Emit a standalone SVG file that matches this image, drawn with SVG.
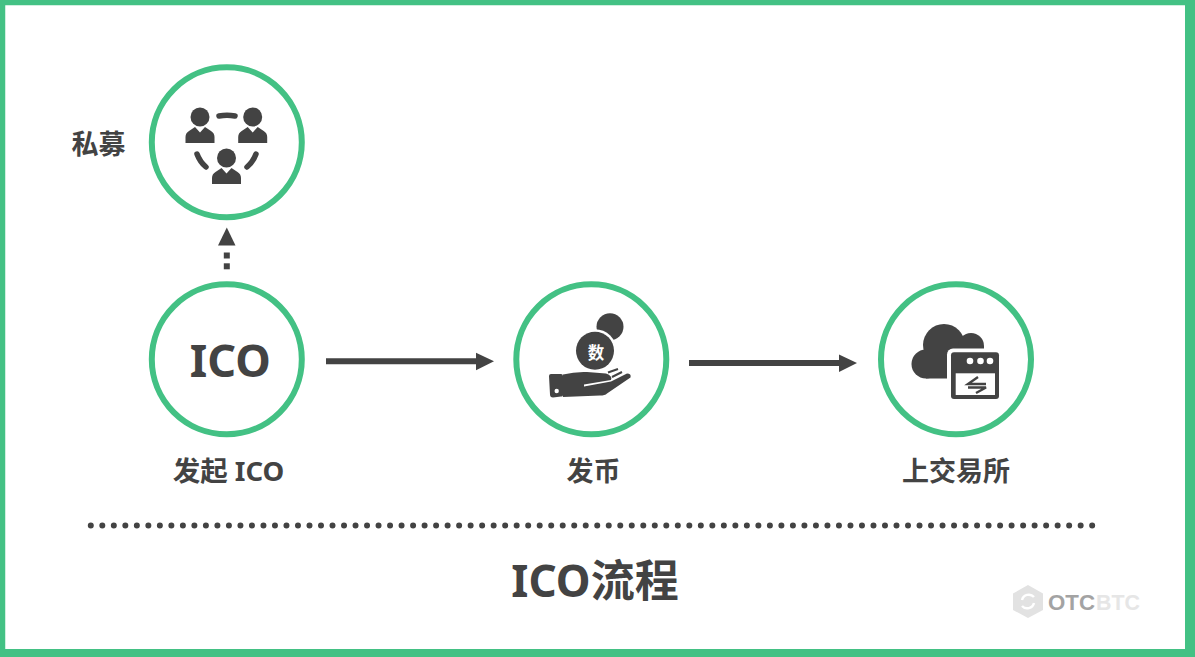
<svg xmlns="http://www.w3.org/2000/svg" width="1195" height="657" viewBox="0 0 1195 657">
<style>
text{font-family:"Noto Sans","Noto Sans CJK SC",sans-serif;font-weight:700;fill:#434343;text-anchor:middle}
.ring{fill:#fff;stroke:#43c184;stroke-width:6}
.ic{fill:#434343}
.ln{fill:none;stroke:#434343;stroke-width:5.500;stroke-linecap:round}
</style>
<defs>
<g id="person">
<circle cx="0" cy="-11" r="9.500" class="ic"/>
<path class="ic" d="M-14.500,15V9Q-14.500,5-11,3L-5,-1L0,4.500L5,-1L11,3Q14.500,5 14.500,9V15Z"/>
</g>
</defs>
<rect id="frame" x="2.500" y="2.500" width="1187" height="650" fill="#fff" stroke="#43c184" stroke-width="5.500"/>
<rect x="1185" y="0" width="10" height="657" fill="#43c184"/>
<rect x="0" y="649" width="1195" height="8" fill="#43c184"/>
<g id="connectors">
<rect x="223.800" y="252.500" width="6" height="6" class="ic"/>
<rect x="223.800" y="263.300" width="6" height="6" class="ic"/>
<path class="ic" d="M226.800,227.500L235.500,245.500H218Z"/>
<path class="ic" d="M326,358.300H476V352.700L494,361.300L476,370.300V364.300H326Z"/>
<path class="ic" d="M689,360H839V354.500L857,363L839,372V366H689Z"/>
</g>
<g id="node-private">
<circle class="ring" cx="226.800" cy="142.300" r="75"/>
<use href="#person" x="200" y="128"/>
<use href="#person" x="252.700" y="128"/>
<use href="#person" x="226.500" y="169"/>
<path class="ln" d="M219,116Q227,114.500 235,116"/>
<path class="ln" d="M197,154Q200,162 206,167"/>
<path class="ln" d="M256,154Q253,162 247,167"/>
<text x="98.500" y="153.500" font-size="27">私募</text>
</g>
<g id="node-ico">
<circle class="ring" cx="226.800" cy="359.300" r="75"/>
<text x="230.300" y="377" font-size="45">ICO</text>
<text x="228.500" y="480.500" font-size="27.500">发起 ICO</text>
</g>
<g id="node-coin">
<circle class="ring" cx="591.300" cy="359.300" r="75"/>
<circle class="ic" cx="610" cy="326.700" r="13.500"/>
<circle cx="595" cy="350.700" r="21.500" fill="#fff"/>
<circle class="ic" cx="595" cy="350.700" r="19"/>
<text x="596" y="358.500" font-size="16.500" style="fill:#fff">数</text>
<path class="ic" d="M551,374H561Q563,374 563,376V395Q563,397 561,396.500L553,397.500Q550,397.500 550,394.500L549,376Q549,374 551,374Z"/>
<circle cx="556.700" cy="391" r="2.200" fill="#fff"/>
<path class="ic" d="M563,374.500Q575,371.500 587,372L606,373.500Q613,376 611,380L584,384.500V386.500L611,381.500L627,373.500Q631.500,373.500 630.500,377.500L607,393.500Q605,395.500 600,395.500L563,397Z"/>
<path d="M608,372.500L618,369M612,377L622,372" fill="none" stroke="#434343" stroke-width="2"/>
<text x="593.500" y="480.500" font-size="27">发币</text>
</g>
<g id="node-exchange">
<circle class="ring" cx="956" cy="359.300" r="75"/>
<circle class="ic" cx="944" cy="345" r="21"/>
<circle class="ic" cx="926" cy="364" r="14.500"/>
<circle class="ic" cx="971" cy="346" r="13"/>
<rect class="ic" x="926" y="346" width="58" height="32.500"/>
<rect x="947" y="348.500" width="56" height="54" rx="6" fill="#fff"/>
<rect class="ic" x="951" y="352.300" width="48" height="46.700" rx="3"/>
<rect x="955.700" y="373.300" width="39.300" height="21.700" fill="#fff"/>
<circle cx="970" cy="361" r="3.300" fill="#fff"/>
<circle cx="980.500" cy="361" r="3.300" fill="#fff"/>
<circle cx="990" cy="361" r="3.300" fill="#fff"/>
<path d="M978,377L968,384H986M986,387.500H968M968,387.500H986L976,393" fill="none" stroke="#434343" stroke-width="2.400"/>
<text x="956" y="480.500" font-size="27">上交易所</text>
</g>
<g id="divider">
<line x1="90.800" y1="525.500" x2="1098" y2="525.500" stroke="#434343" stroke-width="6" stroke-linecap="round" stroke-dasharray="0 11.510"/>
</g>
<g id="title">
<text x="595" y="597" font-size="44">ICO流程</text>
</g>
<g id="watermark">
<path d="M1028,585L1043,593.500V610L1028,618L1013,610V593.500Z" fill="#e2e2e2"/>
<path d="M1034,597A7,7 0 0 0 1022,600M1022,606A7,7 0 0 0 1034,603" fill="none" stroke="#fff" stroke-width="2.500"/>
<text x="1071.500" y="610" font-size="22" textLength="47" lengthAdjust="spacingAndGlyphs" style="font-family:'Liberation Sans',sans-serif;fill:#a3a3a3">OTC</text>
<text x="1118" y="610" font-size="22" textLength="44" lengthAdjust="spacingAndGlyphs" style="font-family:'Liberation Sans',sans-serif;fill:#e6e6e6">BTC</text>
</g>
</svg>
